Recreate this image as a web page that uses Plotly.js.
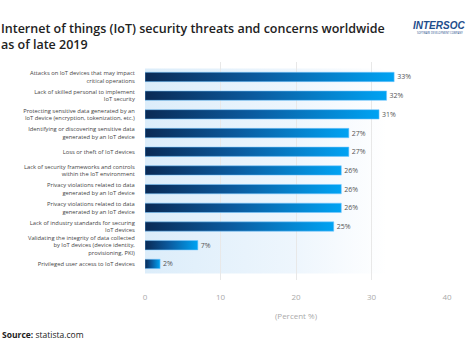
<!DOCTYPE html>
<html>
<head>
<meta charset="utf-8">
<script src="https://cdn.plot.ly/plotly-3.0.1.min.js"></script>
<style>
  html, body { margin: 0; padding: 0; background: #fff; }
  #chart { width: 474px; height: 356px; }
</style>
</head>
<body>
<div id="chart"></div>
<script>
const categories = [
  "Attacks on IoT devices that may impact<br>critical operations",
  "Lack of skilled personal to implement<br>IoT security",
  "Protecting sensitive data generated by an<br>IoT device (encryption, tokenization, etc.)",
  "Identifying or discovering sensitive data<br>generated by an IoT device",
  "Loss or theft of IoT devices",
  "Lack of security frameworks and controls<br>within the IoT environment",
  "Privacy violations related to data<br>generated by an IoT device",
  "Privacy violations related to data<br>generated by an IoT device",
  "Lack of industry standards for securing<br>IoT devices",
  "Validating the integrity of data collected<br>by IoT devices (device identity,<br>provisioning, PKI)",
  "Privileged user access to IoT devices"
];
const values = [33, 32, 31, 27, 27, 26, 26, 26, 25, 7, 2];
const xTicks = [0, 10, 20, 30, 40];

const positions = categories.map((_, i) => i);

const trace = {
  type: 'bar',
  orientation: 'h',
  x: values,
  y: positions,
  width: 0.5,
  marker: { color: '#0a5aa0', line: { width: 0.6, color: 'rgba(120,200,255,0.9)' } },
  text: values.map(v => v + '%'),
  textposition: 'outside',
  textfont: { family: 'Open Sans, sans-serif', size: 7, color: '#555' },
  cliponaxis: false,
  hoverinfo: 'none'
};

const layout = {
  width: 474, height: 356,
  margin: { l: 145, r: 27, t: 62, b: 76 },
  paper_bgcolor: '#fff', plot_bgcolor: 'rgba(0,0,0,0)',
  showlegend: false,
  font: { family: 'Open Sans, sans-serif' },
  title: {
    text: 'Internet of things (IoT) security threats and concerns worldwide<br>as of late 2019',
    xref: 'container', yref: 'container',
    x: 0.002, xanchor: 'left', y: 1 - 33 / 356, yanchor: 'middle',
    font: { family: 'Open Sans, sans-serif', size: 12.5, color: '#222', weight: 600 }
  },
  xaxis: {
    range: [0, 40], tickvals: xTicks, ticktext: xTicks.map(String),
    showgrid: true, gridcolor: '#e8e8e8', gridwidth: 1,
    zeroline: false, showline: false,
    ticks: 'outside', ticklen: 9, tickcolor: 'rgba(0,0,0,0)',
    tickfont: { size: 8, color: '#aaa' },
    title: { text: '(Percent %)', font: { size: 8, color: '#aaa' }, standoff: 12 }
  },
  yaxis: {
    range: [10.86, -0.8],
    tickvals: positions, ticktext: categories,
    showgrid: false, zeroline: false, showline: false,
    ticks: 'outside', ticklen: 8, tickcolor: 'rgba(0,0,0,0)',
    tickfont: { size: 5.8, color: '#444' }
  },
  shapes: [{
    type: 'rect', layer: 'below', xref: 'x', yref: 'paper',
    x0: 0, x1: 40, y0: 0.03, y1: 0.97,
    fillcolor: 'rgba(225,240,252,0.7)', line: { width: 0 }
  }],
  annotations: [
    {
      text: '<b>Source:</b> statista.com', xref: 'paper', yref: 'paper',
      x: -145 / 302, y: -54 / 218, xanchor: 'left', yanchor: 'middle',
      showarrow: false, font: { size: 8.5, color: '#222' }
    },
    {
      text: '<b><i>INTERSOC</i></b>', xref: 'paper', yref: 'paper',
      x: 1 + 20 / 302, y: 1 + 37 / 218, xanchor: 'right', yanchor: 'middle',
      showarrow: false, font: { size: 10, color: '#1f4e8c', family: 'Liberation Sans Narrow, Arial Narrow, sans-serif' }
    },
    {
      text: 'SOFTWARE DEVELOPMENT COMPANY', xref: 'paper', yref: 'paper',
      x: 1 + 18 / 302, y: 1 + 29 / 218, xanchor: 'right', yanchor: 'middle',
      showarrow: false, font: { size: 2.6, color: '#1f4e8c' }
    }
  ]
};

Plotly.newPlot('chart', [trace], layout, { staticPlot: true, displayModeBar: false }).then(gd => {
  const svg = gd.querySelector('svg.main-svg');
  const ns = 'http://www.w3.org/2000/svg';
  let defs = svg.querySelector('defs');
  if (!defs) { defs = document.createElementNS(ns, 'defs'); svg.insertBefore(defs, svg.firstChild); }
  function grad(id, stops) {
    const g = document.createElementNS(ns, 'linearGradient');
    g.setAttribute('id', id);
    g.setAttribute('x1', '0'); g.setAttribute('y1', '0');
    g.setAttribute('x2', '1'); g.setAttribute('y2', '0');
    stops.forEach(s => {
      const st = document.createElementNS(ns, 'stop');
      st.setAttribute('offset', s[0]);
      st.setAttribute('stop-color', s[1]);
      st.setAttribute('stop-opacity', s[2] === undefined ? 1 : s[2]);
      g.appendChild(st);
    });
    defs.appendChild(g);
  }
  grad('barGrad', [['0', '#0a2a55'], ['0.45', '#0b5a9e'], ['1', '#00a3f3']]);
  grad('bgGrad', [['0', '#dcedfa', 1], ['0.5', '#eef6fd', 1], ['0.8', '#ffffff', 1]]);
  gd.querySelectorAll('.barlayer .point path').forEach(p => { p.style.fill = 'url(#barGrad)'; });
  gd.querySelectorAll('.layer-below .shapelayer path').forEach(p => { p.style.fill = 'url(#bgGrad)'; p.style.fillOpacity = 1; });
});
</script>
</body>
</html>
